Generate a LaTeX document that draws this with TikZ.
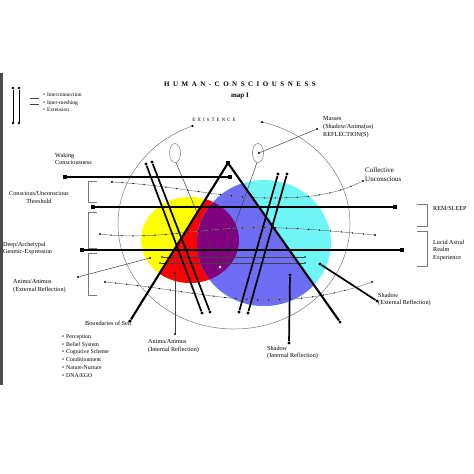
\documentclass[tikz,border=0pt]{standalone}
\usepackage{fontspec}
\setmainfont{Liberation Serif}
\newfontfamily\titlefont[LetterSpace=50]{Liberation Serif}
\newfontfamily\exfont[LetterSpace=40]{Liberation Serif}
\usetikzlibrary{decorations.markings}
\definecolor{cyel}{RGB}{255,255,0}
\definecolor{cred}{RGB}{255,0,0}
\definecolor{cpur}{RGB}{128,0,128}
\definecolor{cblu}{RGB}{110,110,245}
\definecolor{ccya}{RGB}{110,245,245}
\definecolor{cgry}{RGB}{120,120,120}
\tikzset{
 thk/.style={line width=1.7pt, black},
 tri/.style={line width=2.1pt, black},
 thn/.style={line width=0.5pt, black!75},
 gry/.style={line width=0.5pt, cgry},
 rdot/.style={circle, fill=black, inner sep=0pt, minimum size=3.4pt},
 sdot/.style={rectangle, fill=black, inner sep=0pt, minimum size=3.6pt},
 tdot/.style={circle, fill=black, inner sep=0pt, minimum size=2.4pt},
 wdot/.style={circle, fill=white, inner sep=0pt, minimum size=3pt},
 dcurve/.style={gry, postaction={decorate}, decoration={markings, mark=between positions 0.04 and 0.96 step 11pt with {\fill[black] (0,0) circle (0.7pt);}}},
 lbl/.style={font=\fontsize{6.2}{7.8}\selectfont, align=left, inner sep=0pt, anchor=north west},
 brk/.style={line width=0.6pt, cgry},
}
\begin{document}
\begin{tikzpicture}[x=1pt,y=-1pt]
\useasboundingbox (0,0) rectangle (474,474);
% left bar
\fill[black!70] (0,73) rectangle (3,385);
% legend
\node[rdot,minimum size=2.6pt] (lga) at (13,88) {};
\node[rdot,minimum size=2.6pt] (lgb) at (13,123) {};
\node[rdot,minimum size=2.6pt] (lgc) at (19,88) {};
\node[rdot,minimum size=2.6pt] (lgd) at (19,123) {};
\draw[thk,line width=1pt] (lga) -- (lgb);
\draw[thk,line width=1pt] (lgc) -- (lgd);
\coordinate (h1a) at (30,98); \coordinate (h1b) at (39,98);
\coordinate (h2a) at (30,104); \coordinate (h2b) at (39,104);
\draw[thn] (h1a) -- (h1b);
\draw[thn] (h2a) -- (h2b);
\node[lbl,font=\fontsize{5.5}{7.8}\selectfont] (leg) at (43,92.5) {\textbullet\hspace{2pt}Interconnection\\\textbullet\hspace{2pt}Inter-meshing\\\textbullet\hspace{2pt}Extension};
% title
\node[font=\titlefont\bfseries\fontsize{7}{8}\selectfont] (title) at (240,84) {HUMAN-CONSCIOUSNESS};
\node[font=\bfseries\fontsize{7}{8}\selectfont] (map) at (240,96) {map I};
\node[font=\exfont\fontsize{5}{6}\selectfont] (ex) at (214,120) {EXISTENCE};
% coloured regions
\fill[cyel] (190,240) ellipse [x radius=49, y radius=43];
\begin{scope}
 \clip (228,163) -- (81,400) -- (395,400) -- cycle;
 \fill[cred] (190,240) ellipse [x radius=49, y radius=43];
\end{scope}
\fill[ccya] (264,243) ellipse [x radius=67, y radius=63];
\begin{scope}
 \clip (228,163) -- (81,400) -- (395,400) -- cycle;
 \fill[cblu] (264,243) ellipse [x radius=67, y radius=63];
\end{scope}
\begin{scope}
 \clip (190,240) ellipse [x radius=49, y radius=43];
 \fill[cpur] (264,243) ellipse [x radius=67, y radius=63];
\end{scope}
% existence circle
\draw[gry] (234,224) ++(284:116 and 105) coordinate (exR) arc[start angle=284, end angle=609, x radius=116, y radius=105] coordinate (exL);
\node[tdot] (exRd) at (exR) {};
\node[tdot] (exLd) at (exL) {};
% small ellipses
\draw[gry] (175,153) ellipse [x radius=5.5, y radius=9.5];
\draw[gry] (258,153) ellipse [x radius=5.5, y radius=9.5];
\coordinate (elL) at (176,162.5);
\coordinate (elR) at (257,162.5);
\node[tdot] (elRc) at (259,153) {};
\node[tdot] (mass) at (317,129) {};
\draw[thn] (elRc) -- (mass);
\node[wdot] (wd) at (220,267) {};
\draw[thn] (elL) -- (wd);
\draw[thn] (elR) -- (wd);
% dotted curves
\node[tdot] (d1a) at (112,182) {};
\node[tdot] (d1b) at (363,181) {};
\draw[dcurve] (d1a.center) .. controls (180,186) and (220,198) .. (270,198) .. controls (320,198) and (340,192) .. (d1b.center);
\node[tdot] (d2a) at (100,234) {};
\node[tdot] (d2b) at (375,235) {};
\draw[dcurve] (d2a.center) .. controls (150,240) and (190,230) .. (240,228) .. controls (290,226) and (340,232) .. (d2b.center);
\node[tdot] (d4a) at (105,282) {};
\node[tdot] (d4b) at (372,282) {};
\draw[dcurve] (d4a.center) .. controls (170,288) and (220,300) .. (265,300) .. controls (310,300) and (345,292) .. (d4b.center);
% inter-meshing lines
\node[tdot,minimum size=1.8pt] (m1a) at (162,257) {};
\node[tdot,minimum size=1.8pt] (m1b) at (305,257) {};
\node[tdot,minimum size=1.8pt] (m2a) at (160,263) {};
\node[tdot,minimum size=1.8pt] (m2b) at (305,263) {};
\draw[thn] (m1a) -- (m1b);
\draw[thn] (m2a) -- (m2b);
% anima external
\node[tdot] (ae1) at (78,277) {};
\node[tdot] (ae2) at (150,258) {};
\draw[thn] (ae1) -- (ae2);
% anima internal
\node[tdot] (ai1) at (175,273) {};
\node[tdot] (ai2) at (175,334) {};
\draw[thn] (ai1) -- (ai2);
% horizontal thick lines
\node[sdot] (w1) at (65,177) {};
\node[sdot] (w2) at (230,177) {};
\draw[thk] (w1) -- (w2);
\node[sdot] (t1) at (93,207) {};
\node[sdot] (t2) at (395,207) {};
\draw[thk] (t1) -- (t2);
\node[sdot] (g1) at (82,250) {};
\node[sdot] (g2) at (402,250) {};
\draw[thk] (g1) -- (g2);
% diagonal thick lines
\node[rdot] (a1) at (146,164) {};
\node[rdot] (a2) at (202,313) {};
\draw[thk] (a1) -- (a2);
\node[rdot] (b1) at (152,162) {};
\node[rdot] (b2) at (210,312) {};
\draw[thk] (b1) -- (b2);
\node[rdot] (c1) at (278,174) {};
\node[rdot] (c2) at (239,312) {};
\draw[thk] (c1) -- (c2);
\node[rdot] (e1) at (287,174) {};
\node[rdot] (e2) at (248,313) {};
\draw[thk] (e1) -- (e2);
% triangle
\node[sdot] (apex) at (228,163) {};
\node[rdot] (tl) at (130,321) {};
\node[rdot] (tr) at (340,322) {};
\draw[tri] (tl) -- (apex.center) -- (tr);
% shadow lines
\node[rdot] (se1) at (320,264) {};
\node[rdot] (se2) at (377,301) {};
\draw[thk] (se1) -- (se2);
\node[rdot] (si1) at (290,275) {};
\node[rdot] (si2) at (289,343) {};
\draw[thk] (si1) -- (si2);
% brackets left
\draw[brk] (97,181) -- (88,181) -- (88,202) -- (97,202);
\draw[brk] (97,212) -- (88,212) -- (88,248) -- (97,248);
\draw[brk] (97,253) -- (88,253) -- (88,295) -- (97,295);
% brackets right
\draw[brk] (417,204) -- (427,204) -- (427,226) -- (417,226);
\draw[brk] (417,231) -- (427,231) -- (427,266) -- (417,266);
% labels
\node[lbl] (lwak) at (55,152.5) {Waking\\Consciousness};
\node[lbl,anchor=north,align=center] (lthr) at (39,191.5) {Conscious/Unconscious\\Threshold};
\node[lbl] (ldeep) at (3,241.5) {Deep/Archetypal\\Genetic-Expression};
\node[lbl] (lanx) at (13,279.5) {Anima/Animus\\(External Reflection)};
\node[lbl] (lmas) at (323,116.5) {Masses\\(Shadow/Anima(us)\\REFLECTION(S)};
\node[lbl,font=\fontsize{7}{9}\selectfont] (lcol) at (365,167) {Collective\\Unconscious};
\node[lbl] (lrem) at (433,206.5) {REM/SLEEP};
\node[lbl] (lluc) at (433,239.5) {Lucid Astral\\Realm\\Experience};
\node[lbl] (lshe) at (378,292.5) {Shadow\\(External Reflection)};
\node[lbl] (lshi) at (267,345.5) {Shadow\\(Internal Reflection)};
\node[lbl] (lani) at (148,339.5) {Anima/Animus\\(Internal Reflection)};
\node[lbl] (lbos) at (85,320.5) {Boundaries of Self};
\node[lbl,font=\fontsize{5.8}{7.7}\selectfont] (lbul) at (62,334.5) {\textbullet\hspace{2pt}Perception\\\textbullet\hspace{2pt}Belief System\\\textbullet\hspace{2pt}Cognitive Scheme\\\textbullet\hspace{2pt}Conditionment\\\textbullet\hspace{2pt}Nature/Nurture\\\textbullet\hspace{2pt}DNA/EGO};
\end{tikzpicture}
\end{document}
